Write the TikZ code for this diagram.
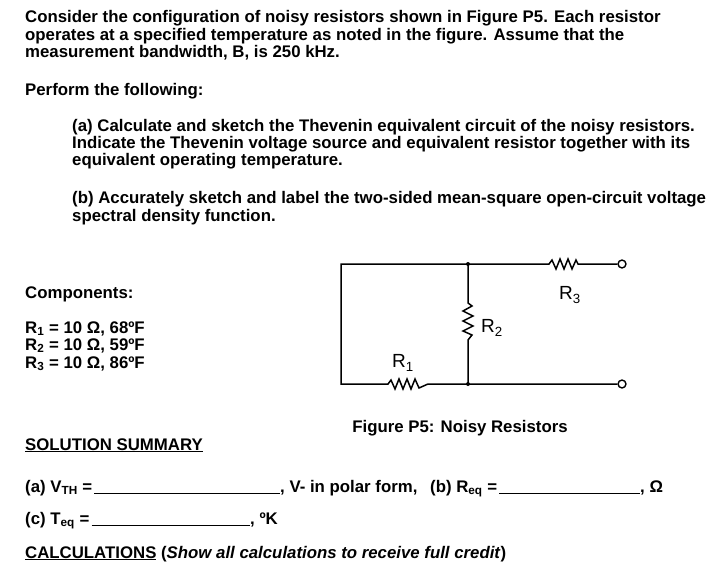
\documentclass[tikz,border=0pt]{standalone}
\usepackage{fontspec}
\setmainfont{Liberation Sans}
\newfontfamily\hand{Liberation Sans}
\begin{document}
\begin{tikzpicture}[x=1pt,y=-1pt,
  txt/.style={anchor=base west,inner sep=0pt,font=\fontsize{16.8}{18}\selectfont\bfseries},
  wire/.style={line width=1.5pt},
  lbl/.style={font=\hand\fontsize{19}{19}\selectfont},
  term/.style={circle,draw,line width=1.4pt,inner sep=2.8pt,fill=white}]
\useasboundingbox (0,0) rectangle (706,580);
\node[txt] (t1) at (25,23) {Consider the configuration of noisy resistors shown in Figure P5. Each resistor};
\node[txt] (t2) at (25,41) {operates at a specified temperature as noted in the figure. Assume that the};
\node[txt] (t3) at (25,58) {measurement bandwidth, B, is 250 kHz.};
\node[txt] (t4) at (25,96) {Perform the following:};
\node[txt] (a1) at (72,132) {(a) Calculate and sketch the Thevenin equivalent circuit of the noisy resistors.};
\node[txt] (a2) at (72,149) {Indicate the Thevenin voltage source and equivalent resistor together with its};
\node[txt] (a3) at (72,166) {equivalent operating temperature.};
\node[txt] (b1) at (72,204) {(b) Accurately sketch and label the two-sided mean-square open-circuit voltage};
\node[txt] (b2) at (72,221) {spectral density function.};
\node[txt] (c0) at (25,298) {Components:};
\node[txt] (c1) at (25,333) {R\textsubscript{1} = 10 Ω, 68ºF};
\node[txt] (c2) at (25,350) {R\textsubscript{2} = 10 Ω, 59ºF};
\node[txt] (c3) at (25,368) {R\textsubscript{3} = 10 Ω, 86ºF};
\node[txt,anchor=base] (cap) at (460,432) {Figure P5: Noisy Resistors};
\node[txt] (ss) at (25,450) {\underline{SOLUTION SUMMARY}};
\node[txt] (sa) at (25,492) {(a) V\textsubscript{TH} =};
\node[txt] (sa2) at (280,492) {, V- in polar form,};
\node[txt] (sb) at (430,492) {(b) R\textsubscript{eq} =};
\node[txt] (sb2) at (640,492) {, Ω};
\node[txt] (sc) at (25,524) {(c) T\textsubscript{eq} =};
\node[txt] (sc2) at (250,524) {, ºK};
\node[txt] (calc) at (25,558) {\underline{CALCULATIONS} (\textit{Show all calculations to receive full credit})};
\draw[line width=0.8pt] (sa.base east) ++(2,1) -- (sa2.base west |- 0,493);
\draw[line width=0.8pt] (sb.base east) ++(2,1) -- (sb2.base west |- 0,493);
\draw[line width=0.8pt] (sc.base east) ++(2,1) -- (sc2.base west |- 0,525);
% circuit
\coordinate (tl) at (341,264); \coordinate (bl) at (341,384);
\coordinate (tm) at (468,264); \coordinate (bm) at (468,384);
\node[term] (o1) at (622,264) {}; \node[term] (o2) at (622,384) {};
\draw[wire] (o1) -- (578,264) -- (576,260) -- (572,269) -- (568,259) -- (564,269) -- (560,259) -- (556,269) -- (552,260) -- (549,264) -- (tm) -- (tl) -- (bl) -- (388,384) -- (391,380) -- (395,389) -- (399,379) -- (403,389) -- (407,379) -- (411,389) -- (415,379) -- (419,388) -- (428,384) -- (bm) -- (o2);
\draw[wire] (tm) -- (468,303) -- (472,306) -- (463,311) -- (473,316) -- (463,321) -- (473,326) -- (463,331) -- (472,335) -- (468,340) -- (bm);
\fill (tm) circle (2); \fill (bm) circle (2);
\node[lbl] (r3) at (570,295) {R\textsubscript{3}};
\node[lbl] (r2) at (492,328) {R\textsubscript{2}};
\node[lbl] (r1) at (403,363) {R\textsubscript{1}};
\end{tikzpicture}
\end{document}
